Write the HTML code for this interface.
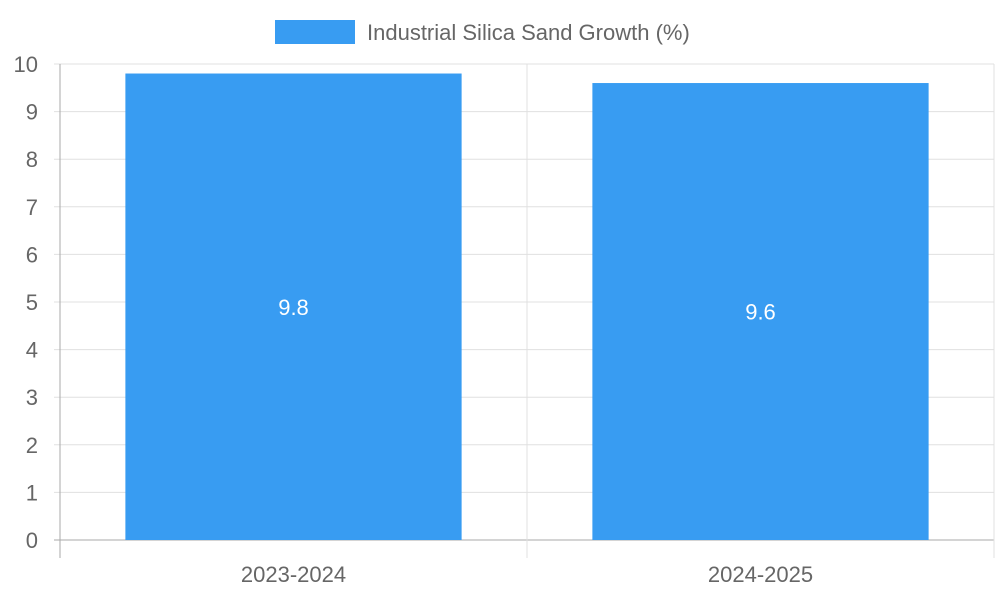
<!DOCTYPE html>
<html><head><meta charset="utf-8"><style>
body{margin:0;background:#fff;}
svg{font-family:"Liberation Sans",sans-serif;}
</style></head><body>
<svg id="chart" width="1000" height="600">
<g id="legend">
<rect x="275" y="20" width="80" height="24" fill="#389cf2"></rect>
<text x="367" y="40" font-size="22" fill="#666">Industrial Silica Sand Growth (%)</text>
</g>
<g id="grid"></g><g id="bars"></g><g id="axes"></g>
</svg>
<script>
const categories = ["2023-2024", "2024-2025"];
const values = [9.8, 9.6];
const yTicks = [0,1,2,3,4,5,6,7,8,9,10];
const L=60,R=994,T=64,B=540,yMax=10;
const ns="http://www.w3.org/2000/svg";
function y(v){return B-(v/yMax)*(B-T);}
const bw=(R-L)/categories.length;
function x(i){return L+bw*i;}
function mk(tag,attrs,parent,txt){const e=document.createElementNS(ns,tag);for(const k in attrs)e.setAttribute(k,attrs[k]);if(txt!==undefined)e.textContent=txt;document.getElementById(parent).appendChild(e);return e;}
yTicks.forEach(t=>{
  const g=mk("line",{x1:L-6,x2:R,y1:y(t),y2:y(t),stroke:t===0?"#aaa":"#e0e0e0","stroke-width":1},"grid");
  
  
  const lb=mk("text",{x:38,y:y(t)+8,"font-size":22,fill:"#666","text-anchor":"end"},"axes",String(t));
  
  
});
for(let i=0;i<=categories.length;i++){
  const v=mk("line",{x1:x(i),x2:x(i),y1:T,y2:B+18,stroke:i===0?"#aaa":"#e0e0e0","stroke-width":1},"grid");
  
  
}
categories.forEach((c,i)=>{
  const w=bw*0.72, bx=x(i)+(bw-w)/2;
  const r=mk("rect",{x:bx,y:y(values[i]),width:w,height:B-y(values[i]),fill:"#389cf2"},"bars");
  
  
  const vl=mk("text",{x:bx+w/2,y:(y(values[i])+B)/2+8,"font-size":22,fill:"#fff","text-anchor":"middle"},"bars",String(values[i]));
  
  
  const xl=mk("text",{x:x(i)+bw/2,y:582,"font-size":22,fill:"#666","text-anchor":"middle"},"axes",c);
  
  
});
</script>
</body></html>
